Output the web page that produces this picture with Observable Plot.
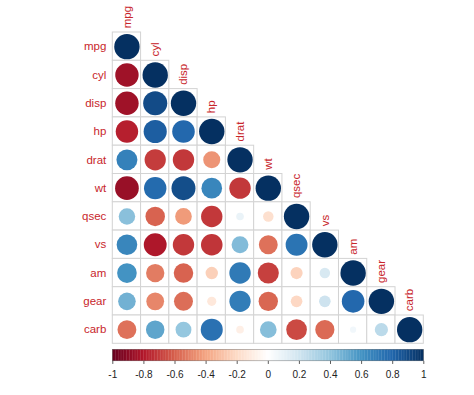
<!DOCTYPE html>
<html>
<head>
<meta charset="utf-8">
<script src="https://cdn.jsdelivr.net/npm/d3@7"></script>
<script src="https://cdn.jsdelivr.net/npm/@observablehq/plot@0.6"></script>
<style>
  html, body { margin: 0; padding: 0; background: #fff; }
  svg { display: block; }
</style>
</head>
<body>
<div id="chart"></div>
<script>
const vars = ["mpg","cyl","disp","hp","drat","wt","qsec","vs","am","gear","carb"];
// lower triangle of the correlation matrix (row i, columns 0..i)
const corrRows = [
  [1.00],
  [-0.85, 1.00],
  [-0.85, 0.90, 1.00],
  [-0.78, 0.83, 0.79, 1.00],
  [0.68, -0.70, -0.71, -0.45, 1.00],
  [-0.87, 0.78, 0.89, 0.66, -0.71, 1.00],
  [0.42, -0.59, -0.43, -0.71, 0.09, -0.17, 1.00],
  [0.66, -0.81, -0.71, -0.72, 0.44, -0.55, 0.74, 1.00],
  [0.60, -0.52, -0.59, -0.24, 0.71, -0.69, -0.23, 0.17, 1.00],
  [0.48, -0.49, -0.56, -0.13, 0.70, -0.58, -0.21, 0.21, 0.79, 1.00],
  [-0.55, 0.53, 0.39, 0.75, -0.09, 0.43, -0.66, -0.57, 0.06, 0.27, 1.00]
];
const paletteStops = [-1, -0.8, -0.6, -0.4, -0.2, 0, 0.2, 0.4, 0.6, 0.8, 1];
const paletteColors = ["#67001F","#B2182B","#D6604D","#F4A582","#FDDBC7","#FFFFFF","#D1E5F0","#92C5DE","#4393C3","#2166AC","#053061"];
const tickValues = [-1, -0.8, -0.6, -0.4, -0.2, 0, 0.2, 0.4, 0.6, 0.8, 1];
const tickLabels = ["-1","-0.8","-0.6","-0.4","-0.2","0","0.2","0.4","0.6","0.8","1"];

const n = vars.length;
const cells = [];
corrRows.forEach((row, i) => row.forEach((v, j) => cells.push({row: i, col: j, value: v})));

const labelColor = "#c8262b";
const barTop = 11.21, barBottom = 11.62;
const toX = v => (v + 1) / 2 * n;
const barSteps = d3.range(-1, 1, 0.01);

const chart = Plot.plot({
  width: 474,
  height: 395,
  margin: 0,
  style: {fontFamily: "Liberation Sans, Arial, sans-serif", background: "white"},
  x: {domain: [0, n], range: [112.3, 423.3], axis: null},
  y: {domain: [0, n], range: [32, 343.3], axis: null},
  r: {type: "sqrt", domain: [0, 1], range: [0, 12.7]},
  color: {type: "linear", domain: paletteStops, range: paletteColors, interpolate: "rgb"},
  marks: [
    Plot.rect(cells, {x1: d => d.col, x2: d => d.col + 1, y1: d => d.row, y2: d => d.row + 1, fill: "white", stroke: "#d3d3d3", strokeWidth: 1}),
    Plot.dot(cells, {x: d => d.col + 0.5, y: d => d.row + 0.5, r: d => Math.abs(d.value), fill: d => d.value, stroke: null}),
    Plot.text(vars, {x: 0, y: (d, i) => i + 0.5, text: d => d, textAnchor: "end", dx: -6.5, fill: labelColor, fontSize: 11.5}),
    Plot.text(vars, {x: (d, i) => i + 0.5, y: (d, i) => i - 0.15, text: d => d, rotate: -90, textAnchor: "start", fill: labelColor, fontSize: 11.5}),
    Plot.rect(barSteps, {x1: d => toX(d), x2: d => toX(d + 0.01) + 0.01, y1: barTop, y2: barBottom, fill: d => d + 0.005}),
    Plot.rect([0], {x1: 0, x2: n, y1: barTop, y2: barBottom, fill: "none", stroke: "#555", strokeWidth: 0.4}),
    Plot.ruleX(tickValues, {x: d => toX(d), y1: barBottom, y2: barBottom + 0.11, stroke: "#333", strokeWidth: 0.8}),
    Plot.text(tickValues, {x: d => toX(d), y: 12.1, text: (d, i) => tickLabels[i], fill: "#222", fontSize: 10})
  ]
});
document.getElementById("chart").appendChild(chart);
</script>
</body>
</html>
